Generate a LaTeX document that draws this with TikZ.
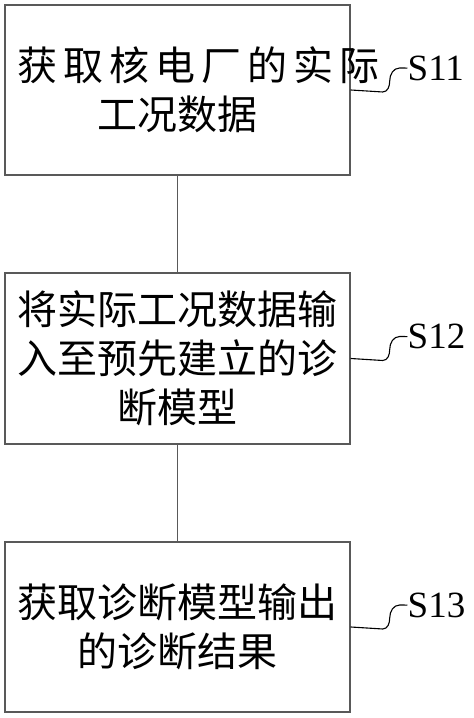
\documentclass[tikz,border=0pt]{standalone}
\usepackage{fontspec}
\setmainfont{Liberation Serif}
\newfontfamily\cjk{Noto Sans CJK SC}
\usetikzlibrary{positioning}

\tikzset{
  stepbox/.style={draw=black!65, line width=1.4bp, minimum width=345bp,
    font=\cjk\fontsize{40bp}{49bp}\selectfont, align=center, inner sep=0pt},
  steplabel/.style={anchor=west, inner sep=0pt, font=\fontsize{37bp}{40bp}\selectfont},
  link/.style={draw=black!65, line width=1.2bp},
  lead/.style={draw=black, line width=1.1bp}
}

\begin{document}
\begin{tikzpicture}[x=1bp, y=1bp]
    \useasboundingbox (0,0) rectangle (474,718);

    % the three steps
    \node[stepbox, minimum height=170bp] (b1) at (177.5,628)
      {\makebox[320bp][s]{获 取 核 电 厂 的 实 际}\\工况数据};
    \node[stepbox, minimum height=171bp] (b2) at (177.5,359.5)
      {将实际工况数据输\\入至预先建立的诊\\断模型};
    \node[stepbox, minimum height=170bp] (b3) at (177.5,91)
      {获取诊断模型输出\\的诊断结果};

    \draw[link] (b1.south) -- (b2.north);
    \draw[link] (b2.south) -- (b3.north);

    % step labels
    \node[steplabel] (s11) at ([xshift=57,yshift=22]b1.east) {S11};
    \node[steplabel] (s12) at ([xshift=57,yshift=22]b2.east) {S12};
    \node[steplabel] (s13) at ([xshift=57,yshift=22]b3.east) {S13};

    \draw[lead] (b1.east) -- ++(32,-2) to[out=0, in=-90] ++(7,11)
      to[out=90, in=180] ++(10,13) -- (s11.west);
    \draw[lead] (b2.east) -- ++(32,-2) to[out=0, in=-90] ++(7,11)
      to[out=90, in=180] ++(10,13) -- (s12.west);
    \draw[lead] (b3.east) -- ++(32,-2) to[out=0, in=-90] ++(7,11)
      to[out=90, in=180] ++(10,13) -- (s13.west);
\end{tikzpicture}
\end{document}
